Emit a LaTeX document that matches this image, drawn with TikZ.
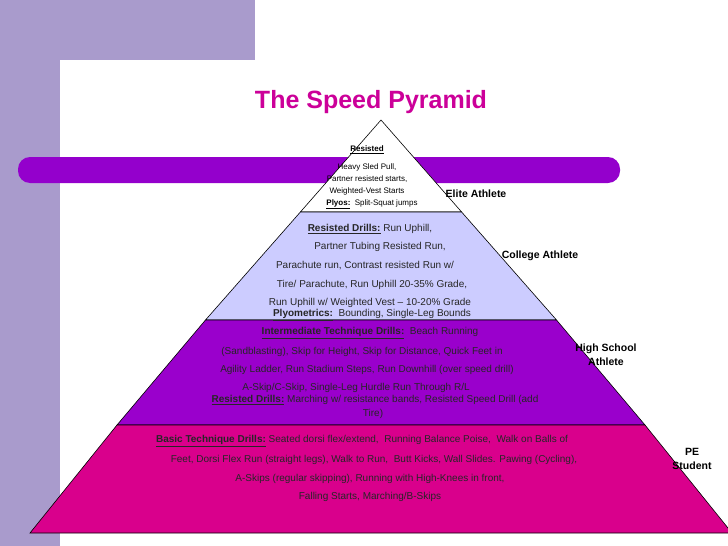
\documentclass[tikz,border=0pt]{standalone}
\usepackage{fontspec}
\setmainfont{Liberation Sans}
\begin{document}
\begin{tikzpicture}[x=1pt,y=-1pt,
  txt/.style={font=\fontsize{10}{11}\selectfont, text=black!85, inner sep=0pt, anchor=center},
  tiny/.style={font=\fontsize{8}{9}\selectfont, text=black, inner sep=0pt, anchor=center},
  lab/.style={font=\fontsize{10.5}{14}\selectfont\bfseries, text=black, align=center, inner sep=0pt},
  tier/.style={draw=black, line width=0.6pt}]
\definecolor{lav}{HTML}{A99BCC}
\definecolor{barp}{HTML}{9400CC}
\definecolor{coll}{HTML}{CCCCFF}
\definecolor{hs}{HTML}{9A00CC}
\definecolor{pe}{HTML}{D9008C}
\definecolor{ttl}{HTML}{CC0099}
\useasboundingbox (0,0) rectangle (728,546);
\begin{scope}
\clip (0,0) rectangle (728,546);
\fill[lav] (0,0) rectangle (255,60);
\fill[lav] (0,0) rectangle (60,546);
\fill[white, rounded corners=20pt] (60,60) rectangle (760,580);
\fill[barp, rounded corners=12pt] (18,157) rectangle (620,183);
\fill[barp] (590,157) rectangle (606,183);
% tiers: apex (381,120), bottom-left (30,533)
\path[tier, fill=white] (381,120) -- (300.4,212) -- (461.6,212) -- cycle;
\path[tier, fill=coll] (300.4,212) -- (205.5,320) -- (556.5,320) -- (461.6,212) -- cycle;
\path[tier, fill=hs] (205.5,320) -- (117,425) -- (645,425) -- (556.5,320) -- cycle;
\path[tier, fill=pe] (117,425) -- (30,533) -- (732,533) -- (645,425) -- cycle;
\end{scope}
\node[font=\fontsize{25}{28}\selectfont\bfseries, text=ttl] (title) at (371,102) {The Speed Pyramid};
% elite
\node[tiny] (e1) at (367,150) {\textbf{\underline{Resisted}}};
\node[tiny] (e2) at (367,167) {Heavy Sled Pull,};
\node[tiny] (e3) at (367,179) {Partner resisted starts,};
\node[tiny] (e4) at (367,191) {Weighted-Vest Starts};
\node[tiny] (e5) at (372,204) {\textbf{\underline{Plyos:}}\ \ Split-Squat jumps};
% college
\node[txt] (c1) at (370,229) {\textbf{\underline{Resisted Drills:}} Run Uphill,};
\node[txt] (c2) at (380,247) {Partner Tubing Resisted Run,};
\node[txt] (c3) at (365,266) {Parachute run, Contrast resisted Run w/};
\node[txt] (c4) at (372,285) {Tire/ Parachute, Run Uphill 20-35\% Grade,};
\node[txt] (c5) at (370,303) {Run Uphill w/ Weighted Vest -- 10-20\% Grade};
\node[txt] (c6) at (372,315) {\textbf{\underline{Plyometrics:}}\ \ Bounding, Single-Leg Bounds};
% high school
\node[txt] (h1) at (370,333) {\textbf{\underline{Intermediate Technique Drills:}}\ \ Beach Running};
\node[txt] (h2) at (362,352) {(Sandblasting), Skip for Height, Skip for Distance, Quick Feet in};
\node[txt] (h3) at (367,370) {Agility Ladder, Run Stadium Steps, Run Downhill (over speed drill)};
\node[txt] (h4) at (356,388) {A-Skip/C-Skip, Single-Leg Hurdle Run Through R/L};
\node[txt] (h5) at (375,400) {\textbf{\underline{Resisted Drills:}} Marching w/ resistance bands, Resisted Speed Drill (add};
\node[txt] (h6) at (373,414) {Tire)};
% PE
\node[txt] (p1) at (362,441) {\textbf{\underline{Basic Technique Drills:}} Seated dorsi flex/extend,\ \ Running Balance Poise,\ \ Walk on Balls of};
\node[txt] (p2) at (374,460) {Feet, Dorsi Flex Run (straight legs), Walk to Run,\ \ Butt Kicks, Wall Slides. Pawing (Cycling),};
\node[txt] (p3) at (370,479) {A-Skips (regular skipping), Running with High-Knees in front,};
\node[txt] (p4) at (370,497) {Falling Starts, Marching/B-Skips};
% labels
\node[lab] (l1) at (476,194) {Elite Athlete};
\node[lab] (l2) at (540,256) {College Athlete};
\node[lab] (l3) at (606,355) {High School\\Athlete};
\node[lab] (l4) at (692,459) {PE\\Student};
\end{tikzpicture}
\end{document}
